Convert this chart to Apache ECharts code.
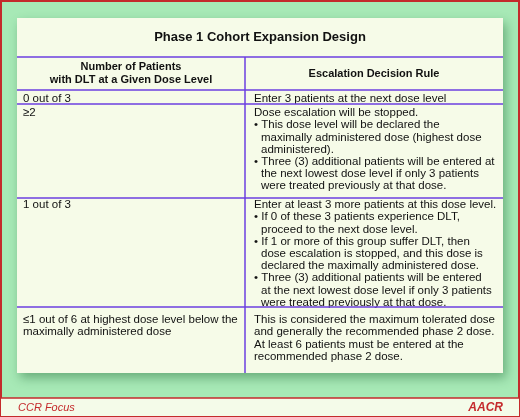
<!DOCTYPE html>
<html>
<head>
<meta charset="UTF-8">
<title>Phase 1 Cohort Expansion Design</title>
<script src="https://cdn.jsdelivr.net/npm/echarts@6/dist/echarts.min.js"></script>
<style>
  * { margin: 0; padding: 0; }
  html, body { width: 100%; height: 100%; }
  #chart { width: 520px; height: 417px; }
</style>
</head>
<body>
<div id="chart"></div>
<script>
var title = 'Phase 1 Cohort Expansion Design';
var headLeft = ['Number of Patients', 'with DLT at a Given Dose Level'];
var headRight = ['Escalation Decision Rule'];
var leftCol = [
    ['0 out of 3'],
    ['\u22652'],
    ['1 out of 3'],
    ['\u22641 out of 6 at highest dose level below the', 'maximally administered dose']
];
var rightCol = [
    ['Enter 3 patients at the next dose level'],
    ['Dose escalation will be stopped.',
     '\u2022 This dose level will be declared the',
     '  maximally administered dose (highest dose',
     '  administered).',
     '\u2022 Three (3) additional patients will be entered at',
     '  the next lowest dose level if only 3 patients',
     '  were treated previously at that dose.'],
    ['Enter at least 3 more patients at this dose level.',
     '\u2022 If 0 of these 3 patients experience DLT,',
     '  proceed to the next dose level.',
     '\u2022 If 1 or more of this group suffer DLT, then',
     '  dose escalation is stopped, and this dose is',
     '  declared the maximally administered dose.',
     '\u2022 Three (3) additional patients will be entered',
     '  at the next lowest dose level if only 3 patients',
     '  were treated previously at that dose.'],
    ['This is considered the maximum tolerated dose',
     'and generally the recommended phase 2 dose.',
     'At least 6 patients must be entered at the',
     'recommended phase 2 dose.']
];
var footer = 'CCR Focus';

var chart = echarts.init(document.getElementById('chart'));
var FONT = '"Liberation Sans", Arial, sans-serif';
var PURPLE = '#6b3fe0', RED = '#c42a2c';
var L = 17, R = 503, MID = 245, LH = 12.2, FS = 11.5;
var els = [];

// background + frame
els.push({ type: 'rect', shape: { x: 0, y: 0, width: 520, height: 417 }, style: { fill: '#a7e9b6' } });
els.push({ type: 'rect', shape: { x: 1, y: 1, width: 518, height: 415 }, style: { fill: 'none', stroke: RED, lineWidth: 2 } });
els.push({ type: 'rect', shape: { x: 1, y: 398, width: 518, height: 18 }, style: { fill: '#f4fbe9' } });
els.push({ type: 'line', shape: { x1: 1, y1: 398, x2: 519, y2: 398 }, style: { stroke: RED, lineWidth: 1.5 } });
els.push({ type: 'rect', shape: { x: L, y: 18, width: R - L, height: 355 },
    style: { fill: '#f6fbe8', shadowBlur: 10, shadowOffsetX: 3, shadowOffsetY: 5, shadowColor: 'rgba(30,100,50,0.45)' } });

function txt(x, y, s, opt) {
    opt = opt || {};
    els.push({ type: 'text', x: x, y: y, style: {
        text: s, fill: opt.fill || '#111', font: (opt.style || '') + ' ' + (opt.weight || 'normal') + ' ' + (opt.size || FS) + 'px ' + FONT,
        textAlign: opt.align || 'left', textVerticalAlign: 'middle' } });
}
function hline(y) { els.push({ type: 'line', shape: { x1: L, y1: y, x2: R, y2: y }, style: { stroke: PURPLE, lineWidth: 1.5 } }); }

txt(260, 37, title, { weight: 'bold', size: 13, align: 'center' });
hline(57);
headLeft.forEach(function (s, i) { txt(131, 67 + i * 13, s, { weight: 'bold', size: 11, align: 'center' }); });
headRight.forEach(function (s) { txt(374, 73.5, s, { weight: 'bold', size: 11, align: 'center' }); });
hline(90);

var tops = [98.5, 113, 205, 320], bottoms = [104, 198, 307];
leftCol.forEach(function (lines, r) {
    lines.forEach(function (s, i) { txt(23, tops[r] + i * LH, s); });
    rightCol[r].forEach(function (s, i) {
        var ind = s.indexOf('  ') === 0;
        txt(ind ? 261 : 254, tops[r] + i * LH, ind ? s.trim() : s);
    });
    if (bottoms[r]) hline(bottoms[r]);
});
els.push({ type: 'line', shape: { x1: MID, y1: 57, x2: MID, y2: 373 }, style: { stroke: PURPLE, lineWidth: 1.5 } });

txt(18, 408, footer, { style: 'italic', fill: RED, size: 11 });
txt(503, 408, 'AACR', { style: 'italic', weight: 'bold', fill: RED, size: 12, align: 'right' });

chart.setOption({ animation: false, graphic: { elements: els } });
</script>
</body>
</html>
